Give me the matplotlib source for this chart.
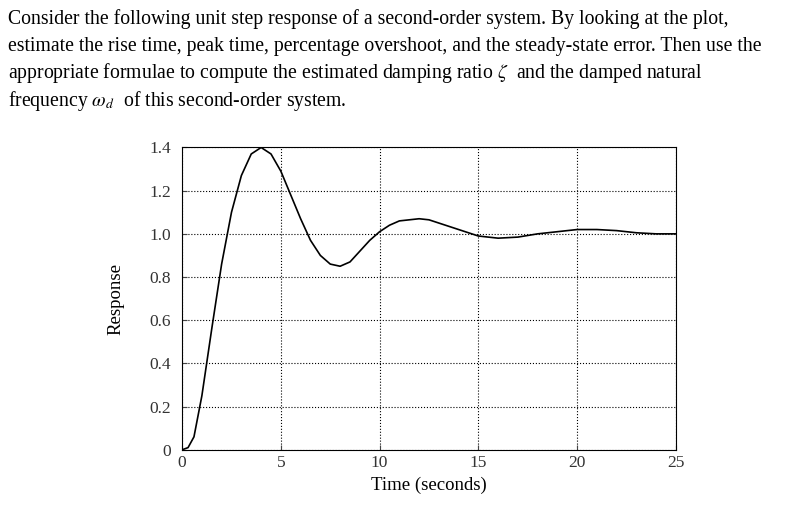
import matplotlib.pyplot as plt

plt.rcParams['font.family'] = ['Liberation Serif', 'DejaVu Serif']
plt.rcParams['mathtext.fontset'] = 'stix'

# values
t = [0, 0.3, 0.6, 1.0, 1.5, 2.0, 2.5, 3.0, 3.5, 4.0, 4.5, 5.0, 5.5, 6.0, 6.5, 7.0,
     7.5, 8.0, 8.5, 9.0, 9.5, 10.0, 10.5, 11.0, 12.0, 12.5, 13.0, 14.0, 15.0, 16.0,
     17.0, 18.0, 19.0, 20.0, 21.0, 22.0, 23.0, 24.0, 25.0]
resp = [0, 0.01, 0.06, 0.25, 0.56, 0.86, 1.10, 1.27, 1.37, 1.40, 1.37, 1.29, 1.18, 1.07,
        0.97, 0.90, 0.86, 0.85, 0.87, 0.92, 0.97, 1.01, 1.04, 1.06, 1.07, 1.065, 1.05,
        1.02, 0.99, 0.98, 0.985, 1.0, 1.01, 1.02, 1.02, 1.015, 1.005, 1.0, 1.0]

xticks = [0, 5, 10, 15, 20, 25]
yticks = [0, 0.2, 0.4, 0.6, 0.8, 1.0, 1.2, 1.4]
ylabels = ['0', '0.2', '0.4', '0.6', '0.8', '1.0', '1.2', '1.4']

fig = plt.figure(figsize=(7.85, 5.23), dpi=100)

question = [
    "Consider the following unit step response of a second-order system. By looking at the plot,",
    "estimate the rise time, peak time, percentage overshoot, and the steady-state error. Then use the",
    r"appropriate formulae to compute the estimated damping ratio $\zeta$  and the damped natural",
    r"frequency $\omega_d$  of this second-order system.",
]
for i, line in enumerate(question):
    fig.text(0.01, 0.955 - i * 0.0525, line, fontsize=14.2, va='baseline', ha='left')

ax = fig.add_axes([0.232, 0.14, 0.629, 0.578])
ax.plot(t, resp, color='black', lw=1.2)
ax.set_xlim(0, 25)
ax.set_ylim(0, 1.4)
ax.set_xticks(xticks)
ax.set_yticks(yticks)
ax.set_yticklabels(ylabels)
ax.grid(True, color='black', linestyle=':', lw=0.8)
ax.tick_params(direction='in', labelsize=12.5, colors='#444444', labelcolor='#333333')
ax.tick_params(axis='y', pad=8)
ax.set_xlabel('Time (seconds)', fontsize=13.5)
ax.set_ylabel('Response', fontsize=13.5, labelpad=18)

fig.savefig('out.png', dpi=100)
